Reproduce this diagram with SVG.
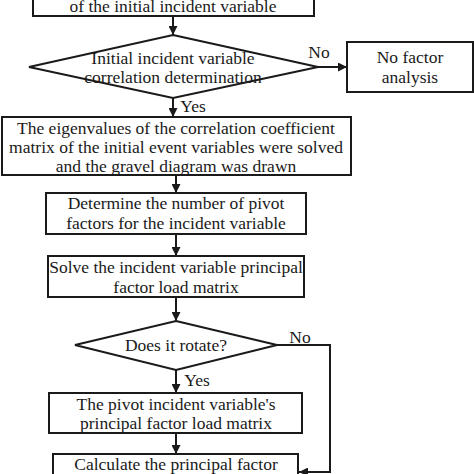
<svg xmlns="http://www.w3.org/2000/svg" width="474" height="474" viewBox="0 0 474 474">
<defs>
<style>
.box{fill:#fff;stroke:#1a1a1a;stroke-width:2}
.ln{fill:none;stroke:#1a1a1a;stroke-width:2}
text{font-family:"Liberation Serif","Times New Roman",serif;font-size:17.5px;fill:#1a1a1a;text-anchor:middle}
</style>
<marker id="ah" viewBox="0 0 10 10" refX="10" refY="5" markerWidth="5" markerHeight="4.5" orient="auto" markerUnits="strokeWidth">
<path d="M0,0 L10,5 L0,10 z" fill="#1a1a1a"/>
</marker>
</defs>
<rect width="474" height="474" fill="#fff"/>
<g id="connectors">
<line class="ln" x1="173" y1="16" x2="173" y2="35" marker-end="url(#ah)"/>
<line class="ln" x1="318" y1="67" x2="347" y2="67" marker-end="url(#ah)"/>
<line class="ln" x1="173" y1="98" x2="173" y2="117" marker-end="url(#ah)"/>
<line class="ln" x1="176" y1="175" x2="176" y2="193" marker-end="url(#ah)"/>
<line class="ln" x1="176" y1="234" x2="176" y2="256" marker-end="url(#ah)"/>
<line class="ln" x1="176" y1="297" x2="176" y2="321" marker-end="url(#ah)"/>
<line class="ln" x1="176" y1="370" x2="176" y2="393" marker-end="url(#ah)"/>
<line class="ln" x1="176" y1="433" x2="176" y2="454" marker-end="url(#ah)"/>
<polyline class="ln" points="277,345 330,345 330,472 299,472" marker-end="url(#ah)"/>
<text x="319" y="58">No</text>
<text x="193" y="112">Yes</text>
<text x="300" y="343">No</text>
<text x="197" y="386">Yes</text>
</g>
<g id="n1">
<rect class="box" x="33" y="-30" width="281" height="46"/>
<text x="173" y="12">of the initial incident variable</text>
</g>
<g id="n2">
<polygon class="box" points="173,35 318,67 173,98 29,67"/>
<text x="173" y="64">Initial incident variable</text>
<text x="173" y="83">correlation determination</text>
</g>
<g id="n3">
<rect class="box" x="347" y="42" width="126" height="50"/>
<text x="410" y="63">No factor</text>
<text x="410" y="83">analysis</text>
</g>
<g id="n4">
<rect class="box" x="2" y="117" width="349" height="58"/>
<text x="176" y="134">The eigenvalues of the correlation coefficient</text>
<text x="176" y="153">matrix of the initial event variables were solved</text>
<text x="176" y="172">and the gravel diagram was drawn</text>
</g>
<g id="n5">
<rect class="box" x="46" y="193" width="260" height="41"/>
<text x="176" y="209">Determine the number of pivot</text>
<text x="176" y="229">factors for the incident variable</text>
</g>
<g id="n6">
<rect class="box" x="48" y="256" width="256" height="41"/>
<text x="176" y="273">Solve the incident variable principal</text>
<text x="176" y="293">factor load matrix</text>
</g>
<g id="n7">
<polygon class="box" points="176,321 277,345 176,370 75,345"/>
<text x="176" y="351">Does it rotate?</text>
</g>
<g id="n8">
<rect class="box" x="49" y="393" width="253" height="40"/>
<text x="176" y="410">The pivot incident variable's</text>
<text x="176" y="429">principal factor load matrix</text>
</g>
<g id="n9">
<rect class="box" x="53" y="454" width="245" height="40"/>
<text x="176" y="470">Calculate the principal factor</text>
</g>
</svg>
